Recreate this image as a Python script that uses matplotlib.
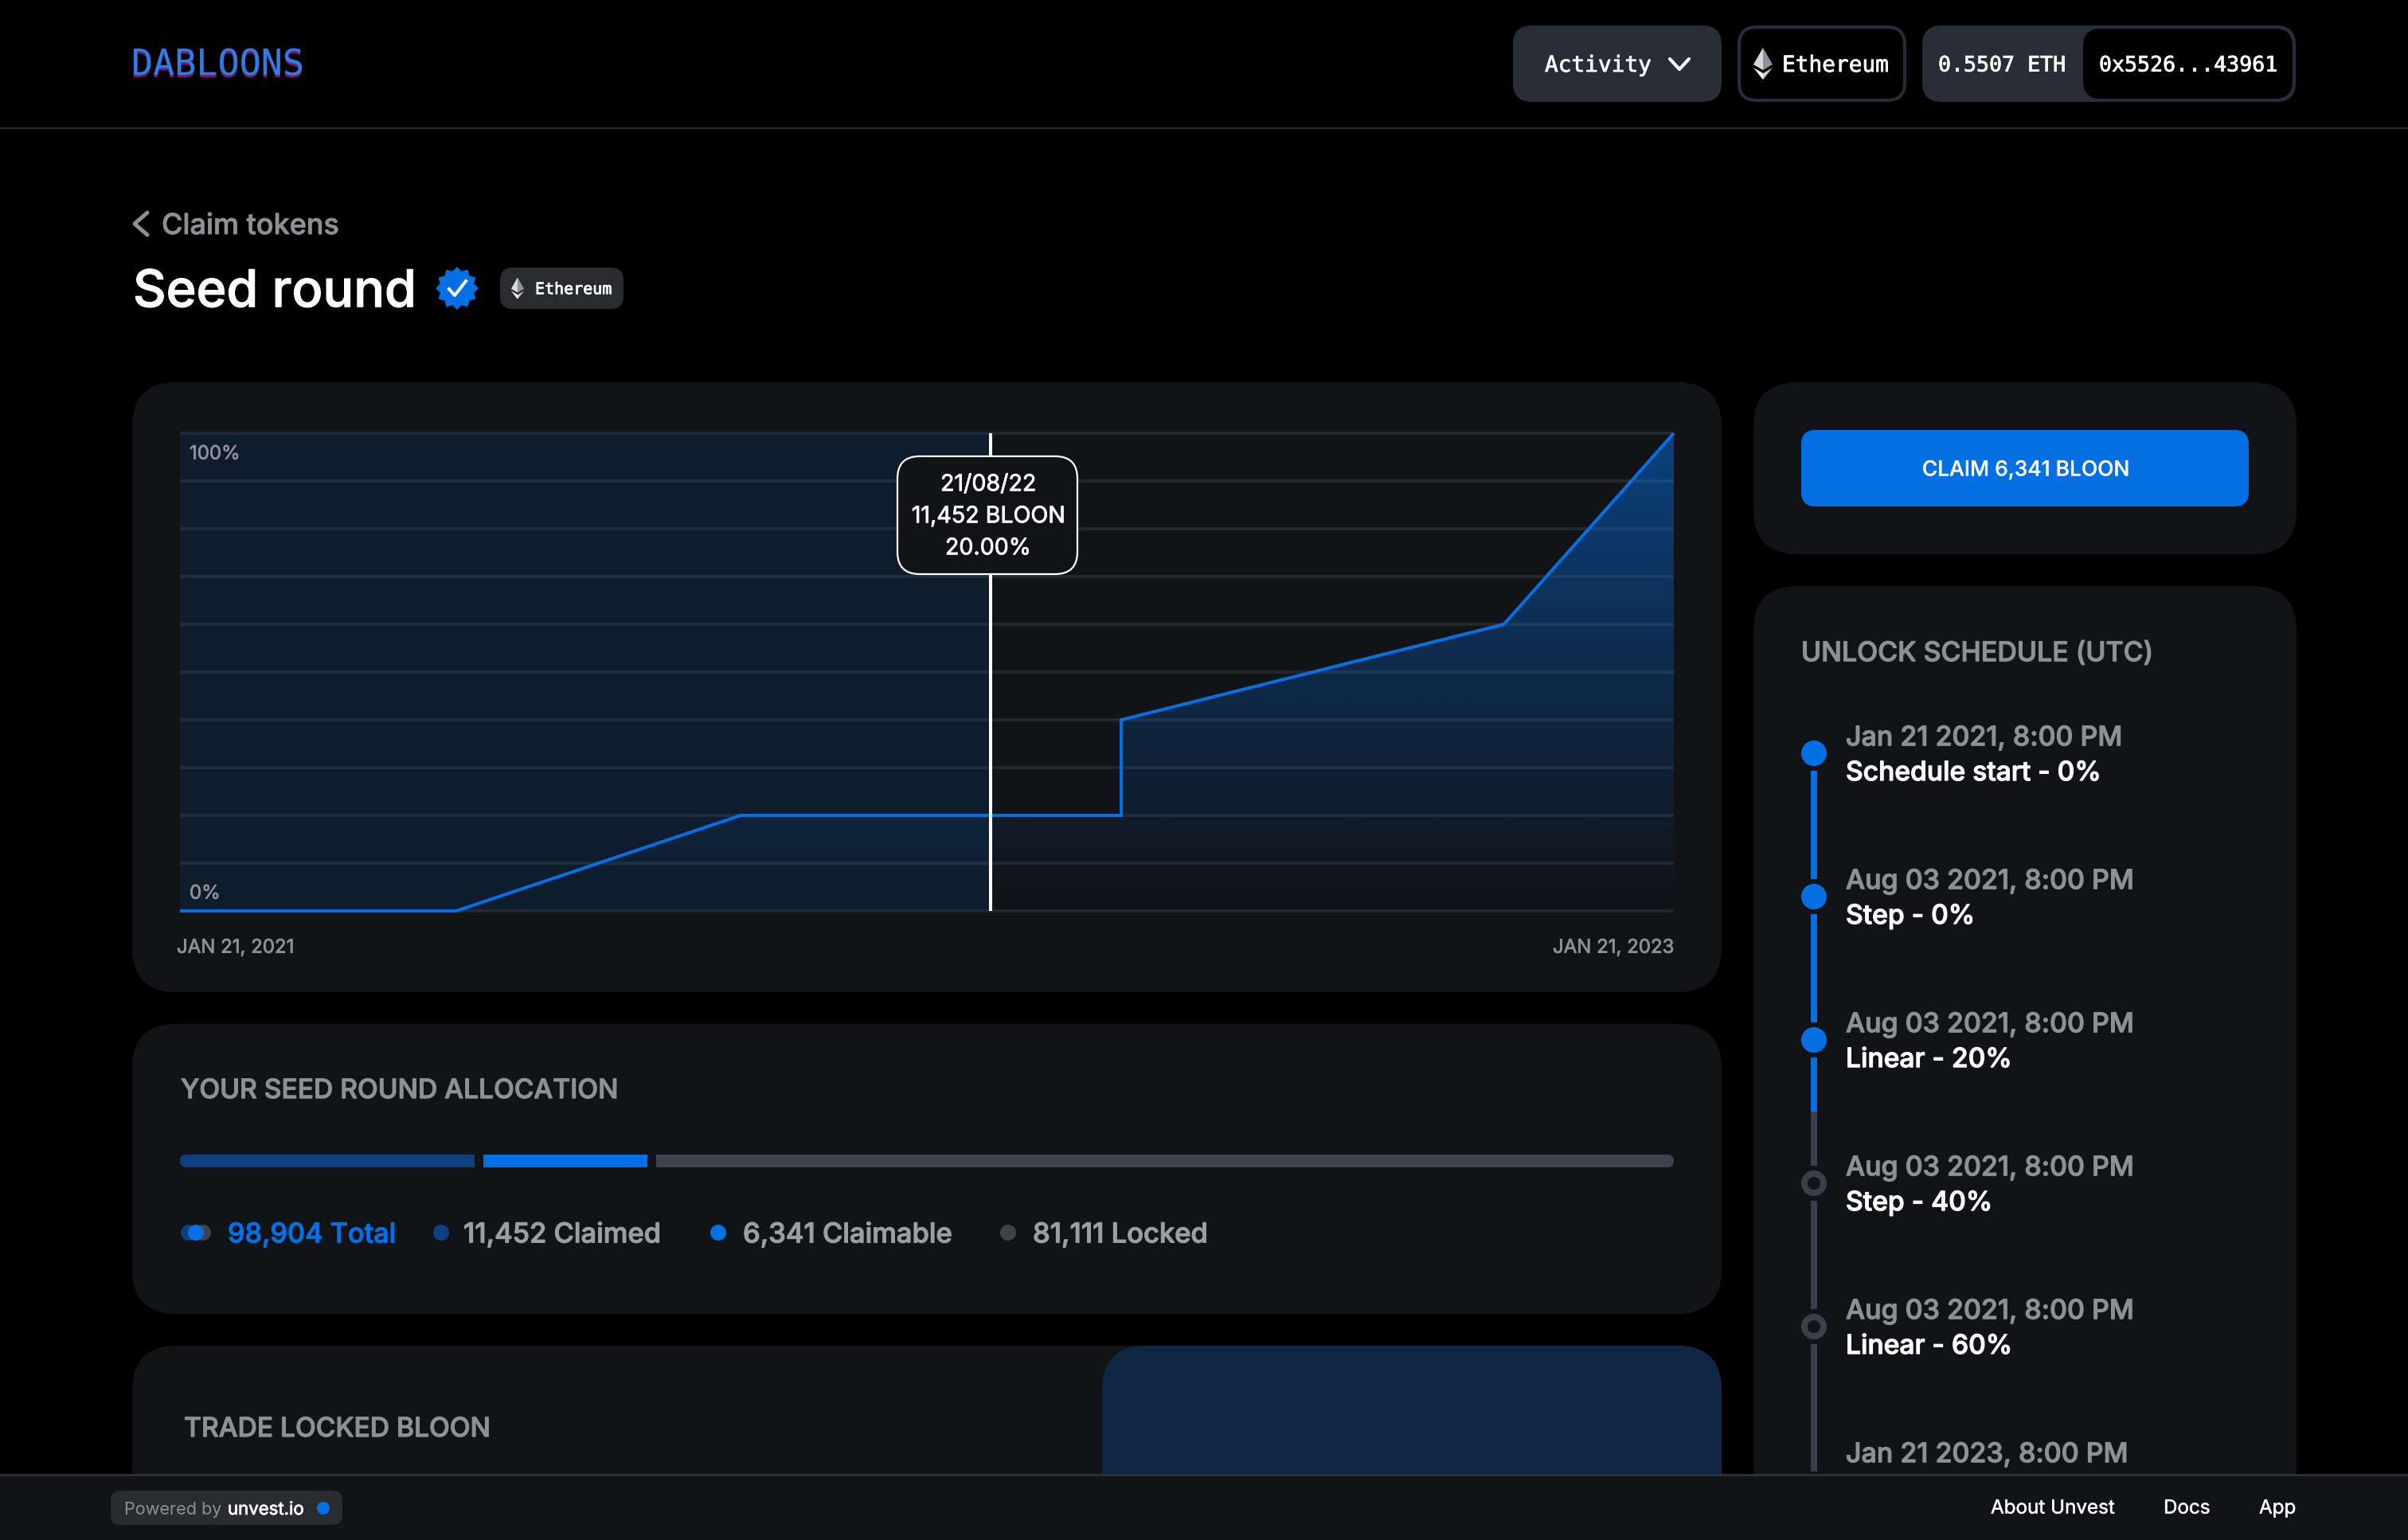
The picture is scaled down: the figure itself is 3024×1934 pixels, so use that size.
import numpy as np
import matplotlib
matplotlib.use("Agg")
import matplotlib.pyplot as plt
import matplotlib.patheffects as pe
from matplotlib.patches import FancyBboxPatch, Polygon, Circle, Rectangle

# unlock curve, days since schedule start vs percent unlocked
days = [0, 135, 274, 460, 460, 647, 730]
unlocked = [0, 0, 20, 20, 40, 60, 100]
grid_levels = [0, 10, 20, 30, 40, 50, 60, 70, 80, 90, 100]
hover_day = 396
tooltip_lines = ["21/08/22", "11,452 BLOON", "20.00%"]

# allocation bar, shares as drawn
bar_shares = [19.72, 10.98, 68.12]
bar_colors = ["#0d4080", "#0570e4", "#3f414d"]
legend_labels = ["98,904 Total", "11,452 Claimed", "6,341 Claimable", "81,111 Locked"]

schedule_dates = ["Jan 21 2021, 8:00 PM", "Aug 03 2021, 8:00 PM", "Aug 03 2021, 8:00 PM",
                  "Aug 03 2021, 8:00 PM", "Aug 03 2021, 8:00 PM", "Jan 21 2023, 8:00 PM"]
schedule_steps = ["Schedule start - 0%", "Step - 0%", "Linear - 20%", "Step - 40%", "Linear - 60%", ""]
schedule_done = [True, True, True, False, False, None]

W, H = 3024, 1934
BLUE = "#0570e4"
CARD = "#111317"
GREY = "#8e9096"
SANS = ["Inter", "DejaVu Sans"]
MONO = ["DejaVu Sans Mono"]

plt.rcParams["font.family"] = SANS

fig = plt.figure(figsize=(W / 100, H / 100), dpi=100, facecolor="black")

# whole page in pixel coordinates
ui = fig.add_axes([0, 0, 1, 1], zorder=0)
ui.set_xlim(0, W)
ui.set_ylim(H, 0)
ui.axis("off")


def box(ax, x0, y0, x1, y1, color, r=0, edge="none", lw=0, z=1):
    p = FancyBboxPatch((x0, y0), x1 - x0, y1 - y0, boxstyle=f"round,pad=0,rounding_size={r}",
                       facecolor=color, edgecolor=edge, linewidth=lw, zorder=z)
    ax.add_patch(p)
    return p


def txt(ax, x, yc, s, px, color="white", ha="left", family=SANS, weight="normal", z=5, thick=0.55):
    # yc is the middle of the capitals
    t = ax.text(x, yc + 0.36 * px, s, fontsize=px * 0.72, color=color, ha=ha, va="baseline",
                family=family, weight=weight, zorder=z)
    if thick:
        # browser text renders heavier than agg
        t.set_path_effects([pe.withStroke(linewidth=thick, foreground=color)])
    return t


def eth(ax, x, yc, k=1.0, z=6):
    ax.add_patch(Polygon([(x, yc - 20 * k), (x - 12 * k, yc + 1 * k), (x, yc + 8 * k)], fc="#d8d8d8", ec="none", zorder=z))
    ax.add_patch(Polygon([(x, yc - 20 * k), (x + 12 * k, yc + 1 * k), (x, yc + 8 * k)], fc="#8b929c", ec="none", zorder=z))
    ax.add_patch(Polygon([(x - 12 * k, yc + 5 * k), (x, yc + 12 * k), (x, yc + 20 * k)], fc="#ffffff", ec="none", zorder=z))
    ax.add_patch(Polygon([(x + 12 * k, yc + 5 * k), (x, yc + 12 * k), (x, yc + 20 * k)], fc="#c9c9c9", ec="none", zorder=z))


# header
ui.add_patch(Rectangle((0, 160), W, 2, fc="#28292c", ec="none", zorder=1))
txt(ui, 165, 81, "DABLOONS", 45, color="#7a1a6e", family=MONO, thick=0)
txt(ui, 165, 78, "DABLOONS", 45, color="#2b7fe8", family=MONO, z=6, thick=0)

box(ui, 1900, 32, 2162, 128, "#272e37", 24)
txt(ui, 1940, 80, "Activity", 27.8, family=MONO)
ui.plot([2097, 2109, 2121], [74, 87, 74], color="white", lw=3, solid_capstyle="round", zorder=6)

box(ui, 2184, 34, 2392, 126, "black", 22, edge="#272e37", lw=2.9)
eth(ui, 2214, 80)
txt(ui, 2238, 80, "Ethereum", 27.8, family=MONO)

box(ui, 2414, 32, 2883, 128, "#272e37", 24)
box(ui, 2616, 36, 2879, 124, "black", 22, z=2)
txt(ui, 2434, 80, "0.5507 ETH", 26.6, family=MONO)
txt(ui, 2636, 80, "0x5526...43961", 26.6, family=MONO)

# page title
ui.plot([185, 169, 185], [267, 281, 295], color=GREY, lw=3.6, solid_capstyle="round", solid_joinstyle="round", zorder=6)
txt(ui, 203, 281, "Claim tokens", 36, color=GREY, weight="medium")
txt(ui, 167, 362, "Seed round", 64.5, weight="medium", thick=0.8)

ang = np.linspace(0, 2 * np.pi, 25)[:-1] - np.pi / 2
rad = np.where(np.arange(24) % 2 == 0, 27, 22)
ui.add_patch(Polygon(np.column_stack([574 + rad * np.cos(ang), 362 + rad * np.sin(ang)]), fc=BLUE, ec="none", zorder=5))
ui.plot([564, 571, 585], [363, 371, 353], color="white", lw=2.8, zorder=6)

box(ui, 628, 336, 783, 388, "#2a2b2f", 16)
eth(ui, 650, 362, 0.68)
txt(ui, 672, 362, "Ethereum", 20, family=MONO)

# cards
box(ui, 166, 480, 2162, 1246, CARD, 56)
box(ui, 166, 1286, 2162, 1650, CARD, 56)
box(ui, 166, 1690, 2162, 1960, CARD, 56)
box(ui, 1384, 1690, 2162, 1960, "#102743", 56, z=2)
box(ui, 2202, 480, 2884, 696, CARD, 56)
box(ui, 2202, 736, 2884, 1960, CARD, 56)

# chart
ax = fig.add_axes([226 / W, 1 - 1144 / H, 1876 / W, 600 / H], zorder=1)
ax.set_xlim(days[0], days[-1])
ax.set_ylim(0, 100)
ax.axis("off")
for level in grid_levels:
    ax.axhline(level, color="#24262e", lw=2.9, clip_on=False, solid_capstyle="butt", zorder=1)
ax.axvspan(days[0], hover_day, color=BLUE, alpha=0.1, lw=0, zorder=2)

fade = np.zeros((256, 1, 4))
fade[..., :3] = matplotlib.colors.to_rgb(BLUE)
fade[..., 3] = np.linspace(0.5, 0, 256)[:, None]
im = ax.imshow(fade, extent=[days[0], days[-1], 0, 100], aspect="auto", zorder=2)
area = Polygon(list(zip(days, unlocked)) + [(days[-1], 0), (days[0], 0)], transform=ax.transData)
im.set_clip_path(area)

ax.plot(days, unlocked, color=BLUE, lw=2.9, clip_on=False, solid_capstyle="butt", solid_joinstyle="miter", zorder=3)
ax.plot([hover_day, hover_day], [0, 100], color="white", lw=2.9, clip_on=False, solid_capstyle="butt", zorder=4)

# labels and tooltip go above the chart
top = fig.add_axes([0, 0, 1, 1], zorder=3)
top.set_xlim(0, W)
top.set_ylim(H, 0)
top.axis("off")
top.patch.set_alpha(0)

txt(top, 238, 568, "100%", 24, color=GREY)
txt(top, 238, 1120, "0%", 24, color=GREY)
txt(top, 222, 1188, "JAN 21, 2021", 24, color=GREY)
txt(top, 2102, 1188, "JAN 21, 2023", 24, color=GREY, ha="right")

box(top, 1127, 573, 1353, 721, CARD, 28, edge="white", lw=1.6, z=4)
for line, yc in zip(tooltip_lines, [606, 646, 686]):
    txt(top, 1241, yc, line, 28.6, ha="center", z=6)

# allocation
txt(ui, 227, 1367, "YOUR SEED ROUND ALLOCATION", 33.6, color=GREY, weight="medium", thick=0.8)
bar_ax = fig.add_axes([226 / W, 1 - 1466 / H, 1876 / W, 16 / H], zorder=1)
bar_ax.set_xlim(0, 100)
bar_ax.set_ylim(0, 1)
bar_ax.axis("off")
bar_clip = box(ui, 226, 1450, 2102, 1466, "none", 8)
gap = 0.6
left = 0
for share, col in zip(bar_shares, bar_colors):
    bars = bar_ax.barh(0.5, share, left=left, height=1, color=col, lw=0)
    bars[0].set_clip_path(bar_clip)
    left += share + gap

ui.add_patch(Circle((237, 1548), 10, fc=bar_colors[0], ec="none", zorder=5))
ui.add_patch(Circle((255, 1548), 10, fc=bar_colors[2], ec="none", zorder=5))
ui.add_patch(Circle((246, 1548), 10, fc=bar_colors[1], ec="none", zorder=6))
txt(ui, 286, 1548, legend_labels[0], 34.2, color=BLUE, weight="medium", thick=0.8)
for dot_x, text_x, label, col in zip([554, 902, 1266], [582, 933, 1297], legend_labels[1:], bar_colors):
    ui.add_patch(Circle((dot_x, 1548), 10, fc=col, ec="none", zorder=5))
    txt(ui, text_x, 1548, label, 34.5, color="#9c9ea3", weight="medium", thick=0.8)

txt(ui, 231, 1792, "TRADE LOCKED BLOON", 33.6, color=GREY, weight="medium", thick=0.8)

# claim button
box(ui, 2262, 540, 2824, 636, BLUE, 18, z=2)
txt(ui, 2544, 588, "CLAIM 6,341 BLOON", 26.4, ha="center", weight="medium", thick=0.15)

# schedule
txt(ui, 2262, 818, "UNLOCK SCHEDULE (UTC)", 34, color=GREY, weight="medium", thick=0.8)
dot_ys = [946, 1126, 1306, 1486, 1666]
for i, y in enumerate(dot_ys):
    end = dot_ys[i + 1] - 22 if i + 1 < len(dot_ys) else 1848
    ui.add_patch(Rectangle((2274, y + 22), 8, end - y - 22, fc="#3c3e4b", ec="none", zorder=3))
    if schedule_done[i]:
        blue_end = min(end, 1396)
        ui.add_patch(Rectangle((2274, y + 22), 8, blue_end - y - 22, fc=BLUE, ec="none", zorder=4))
        ui.add_patch(Circle((2278, y), 16, fc=BLUE, ec="none", zorder=5))
    else:
        ui.add_patch(Circle((2278, y), 12, fc=CARD, ec="#3c3e4b", lw=5.8, zorder=5))

for i, (d, s) in enumerate(zip(schedule_dates, schedule_steps)):
    yc = 924 + 180 * i
    txt(ui, 2318, yc, d, 34, color=GREY, weight="medium", thick=0.8)
    if s:
        txt(ui, 2318, yc + 44, s, 33.6, weight="medium", thick=0.8)

# footer sits over the cards
ui.add_patch(Rectangle((0, 1853), W, 81, fc=CARD, ec="none", zorder=7))
ui.add_patch(Rectangle((0, 1851), W, 3, fc="#2c2e33", ec="none", zorder=8))
box(ui, 139, 1872, 430, 1915, "#2a2b2f", 12, z=8)
txt(ui, 156, 1894, "Powered by", 21.6, color=GREY, z=9, thick=0)
txt(ui, 286, 1894, "unvest.io", 22.2, z=9)
ui.add_patch(Circle((406, 1894), 8, fc=BLUE, ec="none", zorder=9))
txt(ui, 2500, 1892, "About Unvest", 24.2, z=9, thick=0.3)
txt(ui, 2717, 1892, "Docs", 24.2, z=9, thick=0.3)
txt(ui, 2837, 1892, "App", 24.2, z=9, thick=0.3)

fig.savefig("out.png", dpi=100, facecolor="black")
